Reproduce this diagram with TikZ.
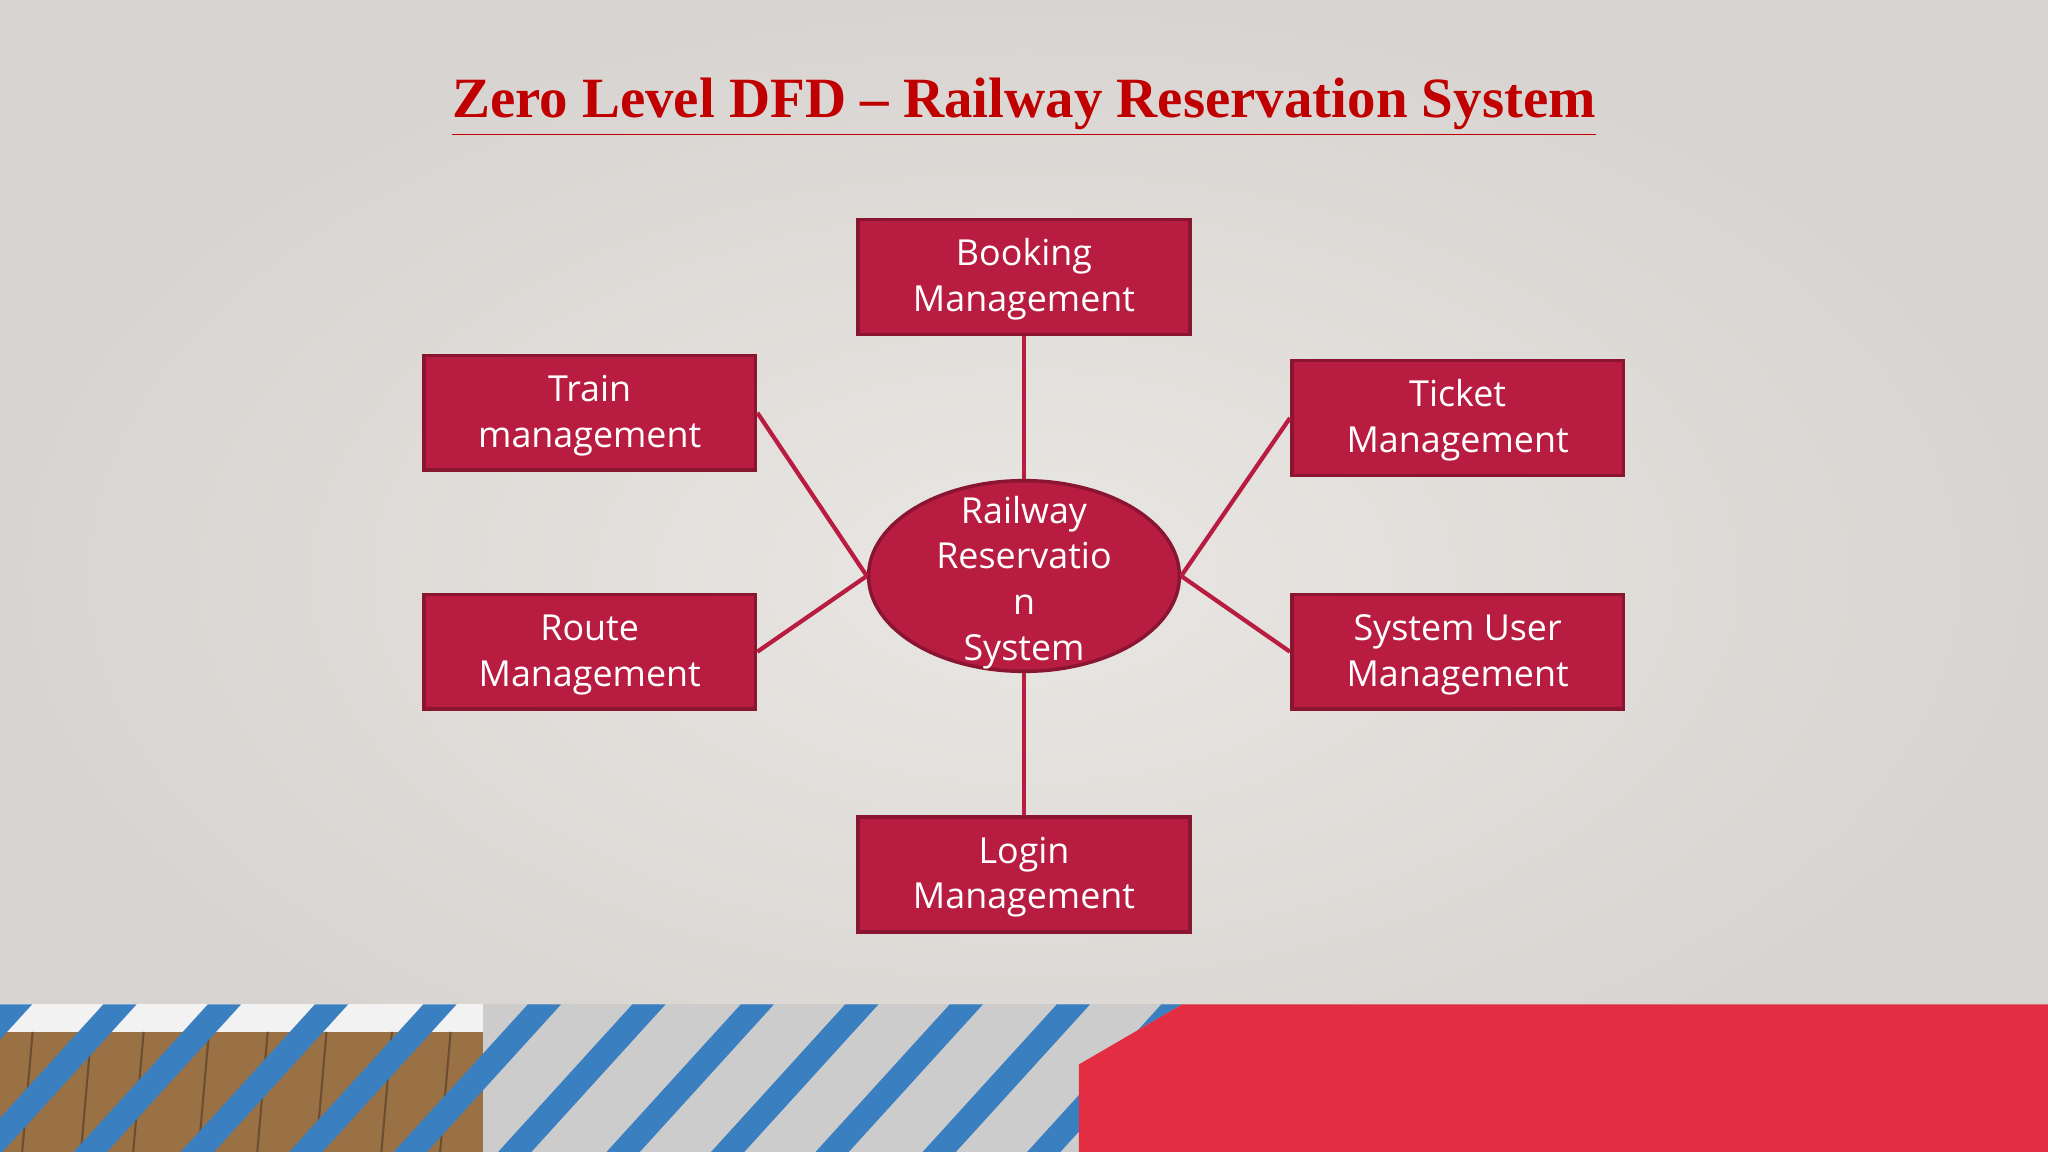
\documentclass[tikz,border=0pt]{standalone}
\usepackage{fontspec}
\setmainfont{Liberation Serif}
\newfontfamily\boxfont{Open Sans}
\usetikzlibrary{shapes.geometric}
\definecolor{boxred}{HTML}{B81C40}
\definecolor{boxedge}{HTML}{8A1530}
\definecolor{titlered}{HTML}{C00000}
\definecolor{stripe}{HTML}{3A7FC0}
\definecolor{wood}{HTML}{9A7045}
\definecolor{bandred}{HTML}{E22D42}
\definecolor{bgin}{HTML}{E9E7E3}
\definecolor{bgout}{HTML}{D8D4D1}
\tikzset{
  txt/.style={text=white, align=center, font=\boxfont\fontsize{10.2pt}{13pt}\selectfont},
  proc/.style={draw=boxedge, line width=1pt, fill=boxred, minimum width=254*0.013061cm, minimum height=88*0.013061cm, inner sep=0pt, txt},
  hub/.style={ellipse, draw=boxedge, line width=1pt, fill=boxred, minimum width=238*0.013061cm, minimum height=146*0.013061cm, inner sep=0pt},
  link/.style={draw=boxred, line width=1.2pt}
}
\begin{document}
\begin{tikzpicture}[x=0.013061cm,y=-0.013061cm]
\useasboundingbox (0,0) rectangle (1568,882);
\shade[inner color=bgin, outer color=bgout] (0,0) rectangle (1568,882);
% bottom band
\fill[gray!40] (370,769) rectangle (905,882);
\fill[white!90!gray] (0,769) rectangle (370,790);
\fill[wood] (0,790) rectangle (370,882);
\foreach \x in {25,70,110,160,205,250,300,345} \draw[wood!70!black, line width=0.6pt] (\x,790) -- (\x-8,882);
\begin{scope}
\clip (0,769) -- (905,769) -- (826,815) -- (826,882) -- (0,882) -- cycle;
\foreach \x in {20,100,180,262,345,425,505,588,668,748,830,910}
  \draw[stripe, line width=7pt] (\x,760) -- (\x-120,892);
\end{scope}
\fill[bandred] (905,769) -- (1568,769) -- (1568,882) -- (826,882) -- (826,815) -- cycle;
% title
\node[font=\bfseries\fontsize{16.2pt}{20pt}\selectfont, text=titlered] (title) at (784,82) {\color{titlered}\underline{Zero Level DFD – Railway Reservation System}};
% nodes
\node[hub] (c) at (784,441) {};
\node[txt] (ct) at (784,446) {Railway\\Reservatio\\n\\System};
\node[proc] (book) at (784,212) {\strut Booking\\Management};
\node[proc] (train) at (451.5,316) {\strut Train\\management};
\node[proc] (ticket) at (1116,320) {\strut Ticket\\Management};
\node[proc] (route) at (451.5,499) {\strut Route\\Management};
\node[proc] (sys) at (1116,499) {\strut System User\\Management};
\node[proc] (login) at (784,669.5) {\strut Login\\Management};
\draw[link] (book) -- (c);
\draw[link] (login) -- (c);
\draw[link] (train.east) -- (c.west);
\draw[link] (route.east) -- (c.west);
\draw[link] (ticket.west) -- (c.east);
\draw[link] (sys.west) -- (c.east);
\end{tikzpicture}
\end{document}
